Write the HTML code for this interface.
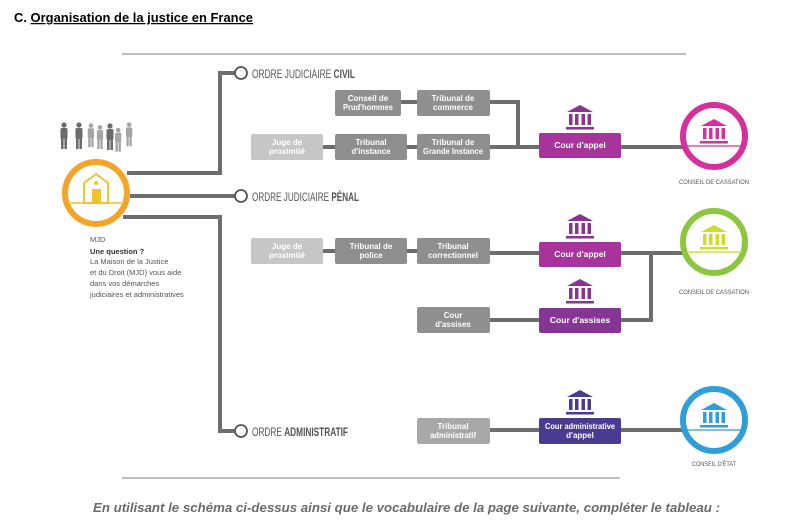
<!DOCTYPE html>
<html><head><meta charset="utf-8"><style>
body{margin:0;background:#fff;width:805px;height:525px;overflow:hidden}
svg{display:block}
.t{font-family:"Liberation Sans",sans-serif}
.bx{font-family:"Liberation Sans",sans-serif;font-size:8px;font-weight:bold;fill:#fff;text-anchor:middle}
.lb{font-family:"Liberation Sans",sans-serif;font-size:12px;fill:#555}
.cs{font-family:"Liberation Sans",sans-serif;font-size:6.5px;fill:#555;text-anchor:middle}
</style></head><body>
<svg width="805" height="525" viewBox="0 0 805 525" xmlns="http://www.w3.org/2000/svg">
<defs>
<g id="bld">
<polygon points="-13,-6 0,-13 13,-6" />
<rect x="-11" y="-4" width="3.5" height="11"/><rect x="-5" y="-4" width="3.5" height="11"/><rect x="1.5" y="-4" width="3.5" height="11"/><rect x="7.5" y="-4" width="3.5" height="11"/>
<rect x="-14" y="9" width="28" height="2.5"/>
</g>
<g id="person"><circle cx="0" cy="-14" r="2.6"/><rect x="-3.5" y="-11" width="7" height="11" rx="1.5"/><rect x="-3" y="0" width="2.6" height="10"/><rect x="0.4" y="0" width="2.6" height="10"/></g>
</defs>
<text x="14" y="22" class="t" font-size="12.5" font-weight="bold" fill="#000" textLength="239" lengthAdjust="spacingAndGlyphs">C. <tspan text-decoration="underline">Organisation  de la justice en France</tspan></text>
<line x1="122" y1="54" x2="686" y2="54" stroke="#aaa" stroke-width="1.5"/>
<line x1="122" y1="478" x2="620" y2="478" stroke="#aaa" stroke-width="1.5"/>
<g fill="#6b6b6b"><use href="#person" x="64" y="139"/><use href="#person" x="79" y="139"/><use href="#person" x="110" y="140"/></g>
<g fill="#a5a5a5"><use href="#person" x="91" y="138" transform="translate(9,14) scale(0.9)"/><use href="#person" x="100" y="140" transform="translate(10,14) scale(0.9)"/><use href="#person" x="118" y="143" transform="translate(12,14) scale(0.9)"/><use href="#person" x="129" y="137" transform="translate(13,14) scale(0.9)"/></g>
<g stroke="#6d6d6d" stroke-width="4" fill="none">
<polyline points="127,173 220,173 220,73 235,73"/>
<line x1="130" y1="196" x2="235" y2="196"/>
<polyline points="123,217 220,217 220,431 235,431"/>
<line x1="323" y1="147" x2="335" y2="147"/>
<line x1="407" y1="147" x2="417" y2="147"/>
<line x1="400" y1="102" x2="417" y2="102"/>
<polyline points="490,102 518,102 518,147"/>
<line x1="490" y1="147" x2="684" y2="147"/>
<line x1="323" y1="251" x2="335" y2="251"/>
<line x1="407" y1="251" x2="417" y2="251"/>
<line x1="490" y1="253" x2="684" y2="253"/>
<polyline points="490,320 651,320 651,253"/>
<line x1="490" y1="430" x2="684" y2="430"/>
</g>
<g fill="#fff" stroke="#555" stroke-width="1.8"><circle cx="241" cy="73" r="6"/><circle cx="241" cy="196" r="6"/><circle cx="241" cy="431" r="6"/></g>
<text x="252" y="78" class="lb" textLength="103" lengthAdjust="spacingAndGlyphs">ORDRE JUDICIAIRE <tspan font-weight="bold">CIVIL</tspan></text>
<text x="252" y="201" class="lb" textLength="107" lengthAdjust="spacingAndGlyphs">ORDRE JUDICIAIRE <tspan font-weight="bold">PÉNAL</tspan></text>
<text x="252" y="436" class="lb" textLength="96" lengthAdjust="spacingAndGlyphs">ORDRE <tspan font-weight="bold">ADMINISTRATIF</tspan></text>
<circle cx="96" cy="193" r="31" fill="#fff" stroke="#f2a52a" stroke-width="6"/>
<line x1="68" y1="203" x2="124" y2="203" stroke="#f2c230" stroke-width="1.5"/>
<polygon points="84,203 84,183 96,174 108,183 108,203" fill="none" stroke="#f2c230" stroke-width="2"/>
<rect x="92" y="189" width="9" height="14" fill="#f2c230"/><circle cx="96" cy="183" r="2" fill="#f2c230"/>
<g class="t" font-size="7.5" fill="#555">
<text x="90" y="242">MJD</text>
<text x="90" y="254" font-weight="bold" fill="#333">Une question ?</text>
<text x="90" y="264">La Maison de la Justice</text>
<text x="90" y="275">et du Droit (MJD) vous aide</text>
<text x="90" y="286">dans vos démarches</text>
<text x="90" y="297">judiciaires et administratives</text>
</g>
<g fill="#8f8f8f">
<rect x="335" y="90" width="66" height="26" rx="2"/>
<rect x="417" y="90" width="73" height="26" rx="2"/>
<rect x="335" y="134" width="72" height="26" rx="2"/>
<rect x="417" y="134" width="73" height="26" rx="2"/>
<rect x="335" y="238" width="72" height="26" rx="2"/>
<rect x="417" y="238" width="73" height="26" rx="2"/>
<rect x="417" y="307" width="73" height="26" rx="2"/>
</g>
<g fill="#c6c6c6">
<rect x="251" y="134" width="72" height="26" rx="2"/>
<rect x="251" y="238" width="72" height="26" rx="2"/>
<rect x="417" y="418" width="73" height="26" rx="2" fill="#a8a8a8"/>
</g>
<rect x="539" y="133" width="82" height="25" rx="2" fill="#a8339a"/>
<rect x="539" y="242" width="82" height="25" rx="2" fill="#a8339a"/>
<rect x="539" y="308" width="82" height="25" rx="2" fill="#873595"/>
<rect x="539" y="418" width="82" height="26" rx="2" fill="#4b3a92"/>
<g class="bx">
<text x="368" y="101">Conseil de</text><text x="368" y="110" textLength="50" lengthAdjust="spacingAndGlyphs">Prud'hommes</text>
<text x="453" y="101">Tribunal de</text><text x="453" y="110">commerce</text>
<text x="287" y="145">Juge de</text><text x="287" y="154">proximité</text>
<text x="371" y="145">Tribunal</text><text x="371" y="154">d'instance</text>
<text x="453" y="145">Tribunal de</text><text x="453" y="154" textLength="60" lengthAdjust="spacingAndGlyphs">Grande Instance</text>
<text x="287" y="249">Juge de</text><text x="287" y="258">proximité</text>
<text x="371" y="249">Tribunal de</text><text x="371" y="258">police</text>
<text x="453" y="249">Tribunal</text><text x="453" y="258" textLength="50" lengthAdjust="spacingAndGlyphs">correctionnel</text>
<text x="453" y="318">Cour</text><text x="453" y="327">d'assises</text>
<text x="453" y="429">Tribunal</text><text x="453" y="438" textLength="46" lengthAdjust="spacingAndGlyphs">administratif</text>
<text x="580" y="148" font-size="8.5">Cour d'appel</text>
<text x="580" y="257" font-size="8.5">Cour d'appel</text>
<text x="580" y="323" font-size="8.5">Cour d'assises</text>
<text x="580" y="429" textLength="70" lengthAdjust="spacingAndGlyphs">Cour administrative</text><text x="580" y="438">d'appel</text>
</g>
<g fill="#8a338f"><use href="#bld" x="580" y="118"/><use href="#bld" x="580" y="227"/><use href="#bld" x="580" y="292"/></g>
<use href="#bld" x="580" y="403" fill="#4b3a92"/>
<circle cx="714" cy="136" r="31" fill="#fff" stroke="#d5309b" stroke-width="6"/>
<line x1="686" y1="146" x2="742" y2="146" stroke="#d5309b" stroke-width="1.2"/>
<use href="#bld" x="714" y="132" fill="#d5309b"/>
<text x="714" y="184" class="cs" textLength="70" lengthAdjust="spacingAndGlyphs">CONSEIL DE CASSATION</text>
<circle cx="714" cy="242" r="31" fill="#fff" stroke="#8cc63f" stroke-width="6"/>
<line x1="686" y1="252" x2="742" y2="252" stroke="#c8d82a" stroke-width="1.2"/>
<use href="#bld" x="714" y="238" fill="#cfdc2a"/>
<text x="714" y="294" class="cs" textLength="70" lengthAdjust="spacingAndGlyphs">CONSEIL DE CASSATION</text>
<circle cx="714" cy="420" r="31" fill="#fff" stroke="#2f9ed9" stroke-width="6"/>
<line x1="686" y1="430" x2="742" y2="430" stroke="#2f9ed9" stroke-width="1.2"/>
<use href="#bld" x="714" y="416" fill="#2f9ed9"/>
<text x="714" y="466" class="cs" textLength="44" lengthAdjust="spacingAndGlyphs">CONSEIL D'ÉTAT</text>
<text x="93" y="512" class="t" font-size="12.5" font-weight="bold" font-style="italic" fill="#6a6a6a" textLength="627" lengthAdjust="spacingAndGlyphs">En utilisant le schéma ci-dessus ainsi que le vocabulaire de la page suivante, compléter le tableau :</text>
</svg>
</body></html>
